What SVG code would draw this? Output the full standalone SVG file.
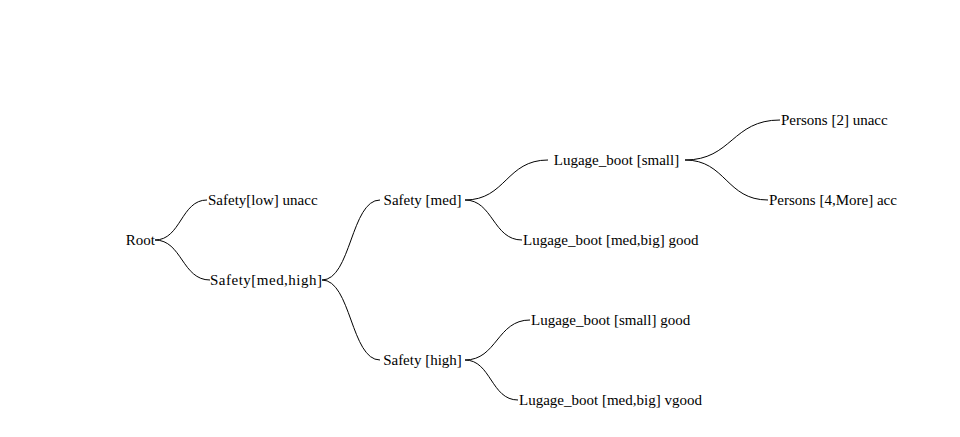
<svg xmlns="http://www.w3.org/2000/svg" width="960" height="437" viewBox="0 0 960 437">
<style>
text{font-family:"Liberation Serif",serif;font-size:15px;fill:#000;dominant-baseline:central}
.l{fill:none;stroke:#000;stroke-width:1}
</style>
<rect width="960" height="437" fill="#fff"/>
<g id="links">
<path class="l" d="M155,240C181,240 181,200 207,200"/>
<path class="l" d="M155,240C182,240 182,280 210,280"/>
<path class="l" d="M322,280C351,280 351,200 380,200"/>
<path class="l" d="M322,280C351,280 351,360 380,360"/>
<path class="l" d="M465,200C506,200 506,160 548,160"/>
<path class="l" d="M465,200C493,200 493,240 522,240"/>
<path class="l" d="M465,360C497,360 497,320 530,320"/>
<path class="l" d="M465,360C491,360 491,400 518,400"/>
<path class="l" d="M685,160C732,160 732,120 780,120"/>
<path class="l" d="M685,160C726,160 726,200 768,200"/>
</g>
<g id="root"><text x="155" y="240" text-anchor="end">Root</text></g>
<g id="slow"><text x="208" y="200">Safety[low] unacc</text></g>
<g id="smedhigh"><text x="266" y="280" text-anchor="middle" textLength="112">Safety[med,high]</text></g>
<g id="smed"><text x="422.5" y="200" text-anchor="middle">Safety [med]</text></g>
<g id="shigh"><text x="422.5" y="360" text-anchor="middle">Safety [high]</text></g>
<g id="lsmall"><text x="616.5" y="160" text-anchor="middle">Lugage_boot [small]</text></g>
<g id="lmedbig"><text x="523" y="240">Lugage_boot [med,big] good</text></g>
<g id="lsmallgood"><text x="531" y="320">Lugage_boot [small] good</text></g>
<g id="lmedbigv"><text x="519" y="400">Lugage_boot [med,big] vgood</text></g>
<g id="p2"><text x="781" y="120">Persons [2] unacc</text></g>
<g id="p4"><text x="769" y="200">Persons [4,More] acc</text></g>
</svg>
